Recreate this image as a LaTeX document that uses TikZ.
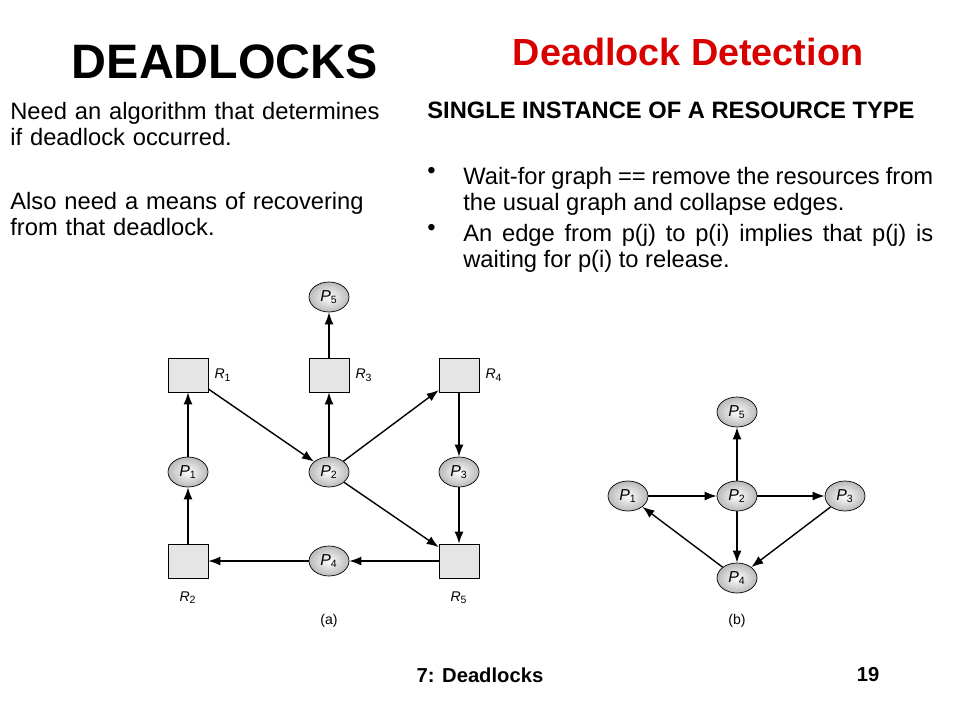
\documentclass[tikz,border=0pt]{standalone}
\usepackage{fontspec}
\setmainfont{Liberation Sans}
\usetikzlibrary{shapes.geometric,arrows.meta}
\tikzset{
  res/.style={draw,fill=gray!20,minimum width=0.8cm,minimum height=0.68cm,inner sep=0pt},
  proc/.style={ellipse,draw,inner color=white,outer color=gray!55,minimum width=0.8cm,minimum height=0.6cm,inner sep=0pt,font=\small\itshape},
  edge/.style={-{Latex[length=2.4mm,width=1.8mm]},thick},
  body/.style={font=\fontsize{13.5}{14.7}\selectfont,anchor=north west,inner sep=0pt},
  lab/.style={font=\footnotesize\itshape}
}
\newcommand{\pp}[1]{P\textsubscript{\upshape#1}}
\newcommand{\rr}[1]{R\textsubscript{\upshape#1}}
\begin{document}
\begin{tikzpicture}[x=0.02cm,y=-0.02cm]
    \useasboundingbox (0,0) rectangle (960,720);

    % Titles
    \node (title) at (225,62) {\bfseries\fontsize{27.5}{30}\selectfont DEADLOCKS};
    \node[red!85!black] (sub) at (688,52) {\bfseries\fontsize{21.5}{24}\selectfont Deadlock Detection};

    % Left text
    \node[body,text width=7.45cm] (need) at (10,102)
        {\hangindent=0.74cm\hangafter=1 Need an algorithm that determines if deadlock occurred.};
    \node[body,text width=7.45cm] (also) at (10,192)
        {\hangindent=0.74cm\hangafter=1 Also need a means of recovering from that deadlock.};

    % Right text
    \node[body] (single) at (427,102) {\bfseries SINGLE INSTANCE OF A RESOURCE TYPE};
    \node[body] (b1) at (427,167) {•};
    \node[body,text width=9.4cm,align=justify] (t1) at (463,167)
        {Wait-for graph == remove the resources from the usual graph and collapse edges.};
    \node[body] (b2) at (427,224) {•};
    \node[body,text width=9.4cm,align=justify] (t2) at (463,224)
        {An edge from p(j) to p(i) implies that p(j) is waiting for p(i) to release.};

    % Graph (a)
    \node[res] (r1) at (188,375) {};
    \node[res] (r3) at (329,375) {};
    \node[res] (r4) at (459,375) {};
    \node[res] (r2) at (188,561) {};
    \node[res] (r5) at (459,561) {};
    \node[lab,anchor=west] at (r1.east) {\rr{1}};
    \node[lab,anchor=west] at (r3.east) {\rr{3}};
    \node[lab,anchor=west] at (r4.east) {\rr{4}};
    \node[lab,anchor=north] at ([yshift=-4pt]r2.south) {\rr{2}};
    \node[lab,anchor=north] at ([yshift=-4pt]r5.south) {\rr{5}};
    \node[proc] (p5) at (329,297) {\pp{5}};
    \node[proc] (p1) at (188,472) {\pp{1}};
    \node[proc] (p2) at (329,472) {\pp{2}};
    \node[proc] (p3) at (459,472) {\pp{3}};
    \node[proc] (p4) at (329,561) {\pp{4}};
    \draw[edge] (p1) -- (r1);
    \draw[edge] (r2) -- (p1);
    \draw[edge] (r1) -- (p2);
    \draw[edge] (p2) -- (r3);
    \draw[edge] (r3) -- (p5);
    \draw[edge] (p2) -- (r4);
    \draw[edge] (r4) -- (p3);
    \draw[edge] (p3) -- (r5);
    \draw[edge] (p2) -- (r5);
    \draw[edge] (r5) -- (p4);
    \draw[edge] (p4) -- (r2);
    \node[font=\footnotesize\rmfamily] (capa) at (329,621) {(a)};

    % Graph (b)
    \node[proc] (q5) at (737,412) {\pp{5}};
    \node[proc] (q1) at (628,496) {\pp{1}};
    \node[proc] (q2) at (737,496) {\pp{2}};
    \node[proc] (q3) at (845,496) {\pp{3}};
    \node[proc] (q4) at (737,578) {\pp{4}};
    \draw[edge] (q1) -- (q2);
    \draw[edge] (q2) -- (q3);
    \draw[edge] (q2) -- (q5);
    \draw[edge] (q2) -- (q4);
    \draw[edge] (q3) -- (q4);
    \draw[edge] (q4) -- (q1);
    \node[font=\footnotesize\rmfamily] (capb) at (737,621) {(b)};

    % Footer
    \node (foot) at (480,675) {\bfseries\fontsize{11.5}{14}\selectfont 7: Deadlocks};
    \node (page) at (868,675) {\bfseries\fontsize{11.5}{14}\selectfont 19};
\end{tikzpicture}
\end{document}
